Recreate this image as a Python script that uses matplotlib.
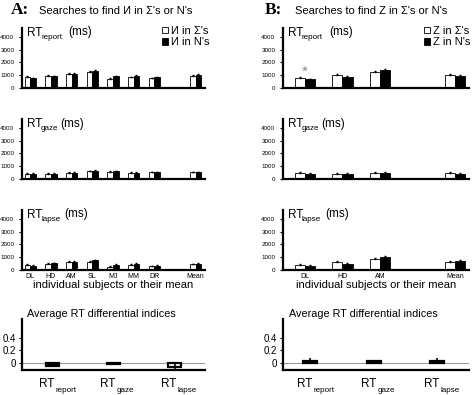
import numpy as np
import matplotlib
matplotlib.use("Agg")
import matplotlib.pyplot as plt

plt.rcParams['font.family'] = ['Liberation Sans', 'DejaVu Sans']

# panel A: 7 subjects + mean ; panel B: 3 subjects + mean
subj_a = ["DL", "HD", "AM", "SL", "MJ", "MM", "DR", "Mean"]
subj_b = ["DL", "HD", "AM", "Mean"]
pos_a = [1, 2, 3, 4, 5, 6, 7, 9]
pos_b = [1, 2, 3, 5]

# RT values (ms): first list = target among Σ's (white), second = among N's (black)
report_a_s = [870, 950, 1130, 1290, 740, 840, 760, 920]
report_a_n = [760, 920, 1110, 1370, 920, 950, 840, 1000]
gaze_a_s = [430, 430, 450, 590, 560, 480, 510, 510]
gaze_a_n = [400, 400, 450, 610, 590, 480, 510, 510]
lapse_a_s = [390, 500, 650, 650, 260, 390, 290, 440]
lapse_a_n = [340, 520, 630, 760, 390, 500, 340, 500]

report_b_s = [815, 1020, 1220, 1020]
report_b_n = [690, 870, 1375, 970]
gaze_b_s = [500, 420, 450, 470]
gaze_b_n = [420, 420, 470, 420]
lapse_b_s = [390, 630, 840, 650]
lapse_b_n = [340, 500, 990, 680]

err_a = [50, 50, 60, 60, 50, 50, 50, 60]
err_b = [50, 50, 80, 80]

# average differential indices
diff_labels = ["report", "gaze", "lapse"]
diff_a = [-0.04, -0.01, -0.06]
diff_a_err = [0.03, 0.01, 0.05]
diff_b = [0.03, 0.03, 0.03]
diff_b_err = [0.05, 0.02, 0.05]

W, H = 474, 395
fig = plt.figure(figsize=(W / 100, H / 100), dpi=100)


def fax(left, right, y0, ytop):
    return fig.add_axes([left / W, 1 - y0 / H, (right - left) / W, (y0 - ytop) / H])


def style(ax):
    for s in ["top", "right"]:
        ax.spines[s].set_visible(False)
    for s in ["left", "bottom"]:
        ax.spines[s].set_linewidth(1.6)
    ax.tick_params(axis='y', length=2.5, width=0.8, labelsize=4.5, pad=3, direction='out')
    ax.tick_params(axis='x', length=0, labelsize=5, pad=2)


def bar_panel(ax, pos, vs, vn, err, xlim, sub):
    pos = np.array(pos)
    bw = 0.27
    bs = ax.bar(pos - bw / 2, vs, bw, color='white', edgecolor='black', linewidth=0.6,
                yerr=[np.zeros(len(err)), err], error_kw=dict(ecolor='black', elinewidth=0.6, capsize=0.8))
    bn = ax.bar(pos + bw / 2, vn, bw, color='black', edgecolor='black', linewidth=0.6,
                yerr=[np.zeros(len(err)), err], error_kw=dict(ecolor='black', elinewidth=0.6, capsize=0.8))
    ax.set_ylim(0, 4700)
    ax.set_xlim(*xlim)
    ax.set_yticks([0, 1000, 2000, 3000, 4000])
    ax.set_xticks([])
    style(ax)
    # label "RT_sub (ms)" drawn in pixel offsets from the top-left corner
    ax.annotate("RT", (0, 1), xycoords='axes fraction', xytext=(5, 1),
                textcoords='offset pixels', fontsize=8.5, va='top', ha='left')
    ax.annotate(sub, (0, 1), xycoords='axes fraction', xytext=(19, -6),
                textcoords='offset pixels', fontsize=5.8, va='top', ha='left')
    ax.annotate("(ms)", (0, 1), xycoords='axes fraction', xytext=(21 + 4.2 * len(sub), 1.5),
                textcoords='offset pixels', fontsize=8.5, va='top', ha='left')
    return bs, bn


def diff_panel(ax, vals, errs, fills, xlim):
    x = np.arange(1, 4)
    ax.axhline(0, color='#999999', lw=0.8, zorder=0)
    ax.bar(x, vals, 0.22, color=fills, edgecolor='black', linewidth=1.6,
           yerr=errs, error_kw=dict(ecolor='black', elinewidth=1.2, capsize=0))
    ax.set_ylim(-0.11, 0.7)
    ax.set_xlim(*xlim)
    ax.set_yticks([0, 0.2, 0.4])
    ax.set_yticklabels(["0", "0.2", "0.4"])
    ax.set_xticks(x)
    ax.set_xticklabels([])
    style(ax)
    ax.tick_params(axis='y', labelsize=7, pad=2)
    for xi, lab in zip(x, diff_labels):
        ax.annotate("RT", (xi, 0), xycoords=('data', 'axes fraction'), xytext=(-4, -6),
                    textcoords='offset points', fontsize=8.5, ha='center', va='top')
        ax.annotate(lab, (xi, 0), xycoords=('data', 'axes fraction'), xytext=(2.5, -12),
                    textcoords='offset points', fontsize=5.8, ha='left', va='top')
    ax.text(0.03, 1.0, "Average RT differential indices", transform=ax.transAxes,
            fontsize=7.8, va='bottom', ha='left')


panels = [
    dict(l=22, r=205, pos=pos_a, names=subj_a, xlim=(0.6, 9.45), tgt="И",
         rep=(report_a_s, report_a_n), gaz=(gaze_a_s, gaze_a_n), lap=(lapse_a_s, lapse_a_n),
         err=err_a, diff=(diff_a, diff_a_err, ['black', 'black', 'white']), dxlim=(0.5, 3.5),
         letter="A:", lx=11, tx=39, legx=162),
    dict(l=283, r=469, pos=pos_b, names=subj_b, xlim=(0.42, 5.37), tgt="Z",
         rep=(report_b_s, report_b_n), gaz=(gaze_b_s, gaze_b_n), lap=(lapse_b_s, lapse_b_n),
         err=err_b, diff=(diff_b, diff_b_err, ['black', 'black', 'black']), dxlim=(0.57, 3.5),
         letter="B:", lx=265, tx=295, legx=424),
]

for p in panels:
    ax1 = fax(p['l'], p['r'], 88, 28)
    bs, bn = bar_panel(ax1, p['pos'], p['rep'][0], p['rep'][1], p['err'], p['xlim'], "report")
    ax2 = fax(p['l'], p['r'], 179, 119)
    bar_panel(ax2, p['pos'], p['gaz'][0], p['gaz'][1], p['err'], p['xlim'], "gaze")
    ax3 = fax(p['l'], p['r'], 270, 210)
    bar_panel(ax3, p['pos'], p['lap'][0], p['lap'][1], p['err'], p['xlim'], "lapse")
    ax3.set_xticks(p['pos'])
    ax3.set_xticklabels(p['names'])
    ax3.set_xlabel("individual subjects or their mean", fontsize=8, labelpad=0)
    ax4 = fax(p['l'], p['r'], 370, 319)
    diff_panel(ax4, p['diff'][0], p['diff'][1], p['diff'][2], p['dxlim'])

    fig.text(p['lx'] / W, 1 - 10 / H, p['letter'], fontsize=12.5, fontweight='bold',
             family='Liberation Serif', va='center', ha='left')
    fig.text(p['tx'] / W, 1 - 11 / H, "Searches to find %s in Σ's or N's" % p['tgt'],
             fontsize=8, va='center', ha='left')
    ax1.legend([bs, bn], ["%s in Σ's" % p['tgt'], "%s in N's" % p['tgt']],
               loc='upper left', bbox_to_anchor=(p['legx'] / W, 1 - 26 / H),
               bbox_transform=fig.transFigure, frameon=False, fontsize=8,
               handlelength=0.55, handleheight=0.55, handletextpad=0.3,
               labelspacing=0.1, borderpad=0, borderaxespad=0)
    if p['letter'] == "B:":
        ax1.text(1, 1250, "*", fontsize=11, color='#888888', ha='center', va='center')

fig.savefig("out.png", dpi=100)
